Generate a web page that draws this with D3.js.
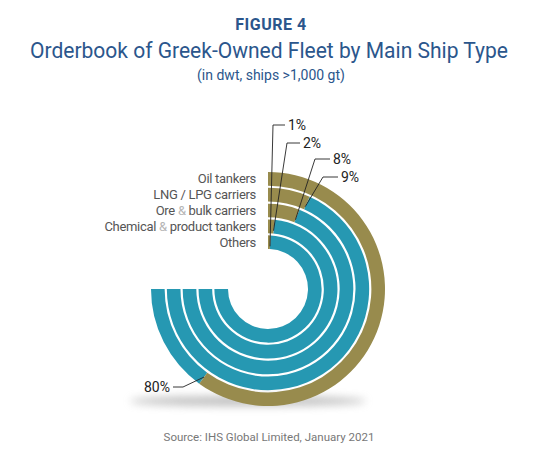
<!DOCTYPE html>
<html>
<head>
<meta charset="utf-8">
<script src="https://cdn.jsdelivr.net/npm/d3@7"></script>
<style>
  body { margin: 0; background: #fff; }
  text { font-family: Roboto, "Open Sans", sans-serif; }
</style>
</head>
<body>
<svg id="chart" width="542" height="458"></svg>
<script>
// Orderbook shares, outermost ring first
const shipTypes = ["Oil tankers", "LNG / LPG carriers", "Ore & bulk carriers", "Chemical & product tankers", "Others"];
const shares = [80, 9, 8, 2, 1];
const shareLabels = ["80%", "9%", "8%", "2%", "1%"];

const OLIVE = "#988b4d";
const TEAL = "#2698b2";
const BLUE = "#2b568c";

const svg = d3.select("#chart");
const cx = 268, cy = 289;

// titles
svg.append("text").attr("x", 271).attr("y", 30)
  .attr("text-anchor", "middle").attr("fill", BLUE)
  .style("font-size", "16px").style("font-weight", "bold").style("letter-spacing", "0.5px")
  .text("FIGURE 4");

const title = svg.append("text").attr("x", 269).attr("y", 58)
  .attr("text-anchor", "middle").attr("fill", BLUE)
  .style("font-size", "22px")
  .text("Orderbook of Greek-Owned Fleet by Main Ship Type");
// squeeze the title to the width seen in the original
const tw = title.node().getComputedTextLength();
if (tw > 478) title.attr("textLength", 478).attr("lengthAdjust", "spacingAndGlyphs");

svg.append("text").attr("x", 271).attr("y", 80)
  .attr("text-anchor", "middle").attr("fill", BLUE)
  .style("font-size", "14px")
  .text("(in dwt, ships >1,000 gt)");

// soft shadow under the rings
const defs = svg.append("defs");
defs.append("filter").attr("id", "blur")
  .attr("x", "-20%").attr("y", "-200%").attr("width", "140%").attr("height", "500%")
  .append("feGaussianBlur").attr("stdDeviation", 4);
svg.append("ellipse")
  .attr("cx", cx - 20).attr("cy", 401).attr("rx", 118).attr("ry", 5)
  .attr("fill", "#8a8a8a").attr("opacity", 0.55)
  .attr("filter", "url(#blur)");

// scales
const angle = d3.scaleLinear().domain([0, 100]).range([0, 1.5 * Math.PI]);
const ring = d3.scaleBand().domain(shipTypes).range([117, 40]).paddingInner(0.14);
const inner = t => ring(t);
const outer = t => ring(t) + ring.bandwidth();

const arc = d3.arc()
  .innerRadius(d => inner(d.type))
  .outerRadius(d => outer(d.type))
  .startAngle(d => d.a0)
  .endAngle(d => d.a1);

const rows = shipTypes.map((type, i) => ({ type, share: shares[i], label: shareLabels[i] }));

const g = svg.append("g").attr("transform", `translate(${cx},${cy})`);

// teal remainder of each ring
g.selectAll("path.rest").data(rows).join("path")
  .attr("class", "rest")
  .attr("d", d => arc({ type: d.type, a0: angle(d.share), a1: angle(100) }))
  .attr("fill", TEAL);

// olive share of each ring
g.selectAll("path.share").data(rows).join("path")
  .attr("class", "share")
  .attr("d", d => arc({ type: d.type, a0: 0, a1: angle(d.share) }))
  .attr("fill", OLIVE);

// ring labels on the left
const lbl = svg.append("g").selectAll("text").data(rows).join("text")
  .attr("x", cx - 12)
  .attr("y", d => cy - (inner(d.type) + outer(d.type)) / 2 + 4.5)
  .attr("text-anchor", "end")
  .attr("fill", "#555")
  .style("font-size", "13px")
  .style("letter-spacing", "-0.3px");
lbl.each(function (d) {
  const parts = d.type.split("&");
  const t = d3.select(this);
  parts.forEach((p, k) => {
    if (k > 0) t.append("tspan").attr("fill", "#b5b5b5").text("&");
    t.append("tspan").text(p);
  });
});

// leader elbows (where each leader turns horizontal), by ring
const elbows = [
  { dx: -85, dy: 98, len: -10 },   // 80%
  { dx: 55, dy: -112, len: 15 },   // 9%
  { dx: 47, dy: -130, len: 15 },   // 8%
  { dx: 19, dy: -146, len: 13 },   // 2%
  { dx: 5, dy: -164, len: 12 }     // 1%
];

const leaders = svg.append("g").attr("transform", `translate(${cx},${cy})`);
rows.forEach((d, i) => {
  const a = angle(d.share);
  const r = inner(d.type) + ring.bandwidth() * (i === 0 ? 0.4 : 0.2);
  const x0 = r * Math.sin(a), y0 = -r * Math.cos(a);
  const e = elbows[i];
  const x2 = e.dx + e.len;
  leaders.append("path")
    .attr("d", `M${x0},${y0}L${e.dx},${e.dy}L${x2},${e.dy}`)
    .attr("fill", "none").attr("stroke", "#222").attr("stroke-width", 0.9);
  leaders.append("text")
    .attr("x", e.len < 0 ? x2 - 3 : x2 + 3)
    .attr("y", e.dy + 5)
    .attr("text-anchor", e.len < 0 ? "end" : "start")
    .attr("fill", "#222")
    .style("font-size", "14px")
    .text(d.label);
});

// source
svg.append("text").attr("x", 269).attr("y", 441)
  .attr("text-anchor", "middle").attr("fill", "#777")
  .style("font-size", "11.5px")
  .text("Source: IHS Global Limited, January 2021");
</script>
</body>
</html>
